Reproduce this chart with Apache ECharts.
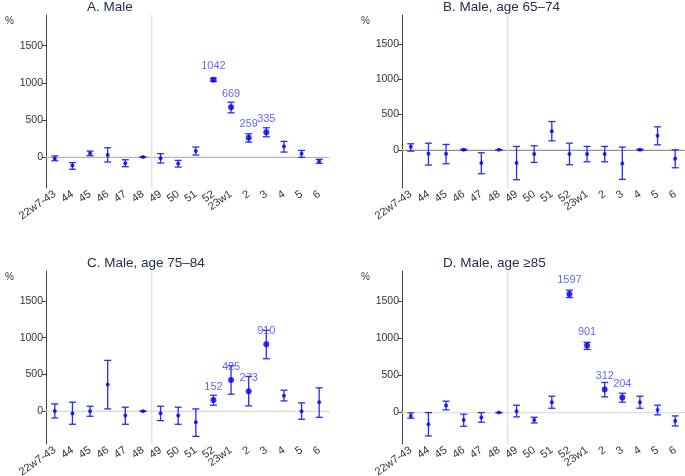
<!DOCTYPE html>
<html>
<head>
<meta charset="utf-8">
<script src="https://cdn.jsdelivr.net/npm/echarts@6/dist/echarts.min.js"></script>
<style>
  html, body { margin: 0; padding: 0; background: #fff; }
  #chart { width: 685px; height: 476px; }
</style>
</head>
<body>
<div id="chart"></div>
<script>
// weeks (x categories)
const weeks = ['22w7-43', '44', '45', '46', '47', '48', '49', '50', '51', '52', '23w1', '2', '3', '4', '5', '6']
const yTicks = [0, 500, 1000, 1500]

// A. Male
const aEst = [-20, -115, 50, 27, -85, 0, -18, -88, 80, 1042, 669, 259, 335, 143, 44, -58]
const aLo = [-50, -165, 18, -67, -130, 0, -80, -135, 27, 1020, 596, 201, 273, 67, -5, -85]
const aHi = [15, -75, 80, 125, -36, 0, 45, -45, 134, 1062, 739, 313, 394, 210, 89, -31]
const aLabelled = ['52', '23w1', '2', '3']

// B. Male, age 65-74
const bEst = [42, -57, -57, 0, -189, 0, -189, -61, 264, -61, -61, -61, -194, 0, 198, -127]
const bLo = [-19, -217, -198, -8, -340, 0, -425, -179, 127, -212, -170, -170, -420, -8, 71, -255]
const bHi = [85, 94, 76, 8, -42, 0, 47, 57, 401, 94, 47, 47, 38, 8, 326, 0]
const bLabelled = []

// C. Male, age 75-84
const cEst = [5, -32, 0, 364, -59, 0, -27, -59, -150, 152, 425, 273, 910, 209, 0, 123]
const cLo = [-91, -177, -68, 32, -177, 0, -127, -177, -341, 82, 232, 73, 714, 141, -109, -82]
const cHi = [100, 123, 68, 691, 55, 0, 68, 55, 32, 218, 618, 473, 1100, 286, 114, 318]
const cLabelled = ['52', '23w1', '2', '3']

// D. Male, age >=85
const dEst = [-45, -157, 94, -99, -67, 0, 18, -99, 140, 1597, 901, 312, 204, 140, 36, -112]
const dLo = [-76, -315, 36, -184, -130, 0, -58, -140, 58, 1548, 850, 211, 140, 58, -31, -180]
const dHi = [-4, 0, 153, -22, 0, 0, 99, -63, 220, 1647, 945, 405, 261, 220, 99, -45]
const dLabelled = ['52', '23w1', '2', '3']

const panels = [
  { title: 'A. Male', est: aEst, lo: aLo, hi: aHi, labelled: aLabelled, min: -417, max: 1913, left: 46, top: 15 },
  { title: 'B. Male, age 65–74', est: bEst, lo: bLo, hi: bHi, labelled: bLabelled, min: -542, max: 1912, left: 402, top: 15 },
  { title: 'C. Male, age 75–84', est: cEst, lo: cLo, hi: cHi, labelled: cLabelled, min: -445, max: 1906, left: 46, top: 271 },
  { title: 'D. Male, age ≥85', est: dEst, lo: dLo, hi: dHi, labelled: dLabelled, min: -423, max: 1905, left: 402, top: 271 }
]

const font = "'Liberation Sans', Arial, sans-serif"
const blue = '#0000f0'
const ciBlue = '#2a2aff'
const refGrey = '#dedede'
const plotW = 282
const plotH = 173

const ciBar = (params, api) => {
  const x = api.value(0)
  const pLo = api.coord([x, api.value(1)])
  const pHi = api.coord([x, api.value(2)])
  const cap = 3.5
  const style = { stroke: ciBlue, lineWidth: 1.3 }
  return {
    type: 'group',
    children: [
      { type: 'line', shape: { x1: pLo[0], y1: pLo[1], x2: pHi[0], y2: pHi[1] }, style },
      { type: 'line', shape: { x1: pHi[0] - cap, y1: pHi[1], x2: pHi[0] + cap, y2: pHi[1] }, style },
      { type: 'line', shape: { x1: pLo[0] - cap, y1: pLo[1], x2: pLo[0] + cap, y2: pLo[1] }, style }
    ]
  }
}

// zero line + separator between week 48 and 49
const refLines = (params, api) => {
  const cs = params.coordSys
  const a = api.coord([5, 0])
  const b = api.coord([6, 0])
  const xm = (a[0] + b[0]) / 2
  const style = { stroke: refGrey, lineWidth: 1.3 }
  return {
    type: 'group',
    children: [
      { type: 'line', shape: { x1: cs.x, y1: a[1], x2: cs.x + cs.width, y2: a[1] }, style },
      { type: 'line', shape: { x1: xm, y1: cs.y, x2: xm, y2: cs.y + cs.height }, style }
    ]
  }
}

const option = {
  backgroundColor: '#fff',
  animation: false,
  title: [],
  grid: [],
  xAxis: [],
  yAxis: [],
  series: []
}

panels.forEach((p, k) => {
  option.title.push({
    text: p.title,
    left: p.left + 41,
    top: p.top - 15,
    padding: 0,
    textStyle: { fontFamily: font, fontSize: 13.5, fontWeight: 'normal', color: '#23304d' }
  })
  option.title.push({
    text: '%',
    left: p.left - 41,
    top: p.top + 1,
    padding: 0,
    textStyle: { fontFamily: font, fontSize: 10, fontWeight: 'normal', color: '#333' }
  })
  option.grid.push({ left: p.left, top: p.top, width: plotW, height: plotH, outerBoundsMode: 'none' })
  option.xAxis.push({
    type: 'category',
    gridIndex: k,
    data: weeks,
    axisLine: { lineStyle: { color: '#444', width: 1 } },
    axisTick: { alignWithLabel: true, length: 4, lineStyle: { color: '#444' } },
    axisLabel: { interval: 0, rotate: 35, margin: 5, fontFamily: font, fontSize: 11, color: '#333' },
    splitLine: { show: false }
  })
  option.yAxis.push({
    type: 'value',
    gridIndex: k,
    min: p.min,
    max: p.max,
    axisLine: { show: true, lineStyle: { color: '#444', width: 1 } },
    axisTick: { show: true, length: 4, customValues: yTicks, lineStyle: { color: '#444' } },
    axisLabel: { customValues: yTicks, formatter: v => String(v), margin: 3, fontFamily: font, fontSize: 10.5, color: '#333' },
    splitLine: { show: false }
  })
  option.series.push({
    type: 'custom',
    xAxisIndex: k,
    yAxisIndex: k,
    silent: true,
    z: 1,
    renderItem: refLines,
    data: [[0, 0]]
  })
  option.series.push({
    type: 'custom',
    xAxisIndex: k,
    yAxisIndex: k,
    z: 2,
    renderItem: ciBar,
    data: weeks.map((w, i) => [i, p.lo[i], p.hi[i]])
  })
  option.series.push({
    type: 'scatter',
    xAxisIndex: k,
    yAxisIndex: k,
    z: 3,
    itemStyle: { color: blue },
    data: weeks.map((w, i) => {
      const big = p.labelled.includes(w)
      return {
        value: [i, p.est[i]],
        symbolSize: big ? 6 : 4,
        label: {
          show: big,
          position: 'top',
          distance: 5,
          formatter: String(p.est[i]),
          fontFamily: font,
          fontSize: 11,
          color: '#3c3cff'
        }
      }
    })
  })
})

const chart = echarts.init(document.getElementById('chart'))
chart.setOption(option)
</script>
</body>
</html>
